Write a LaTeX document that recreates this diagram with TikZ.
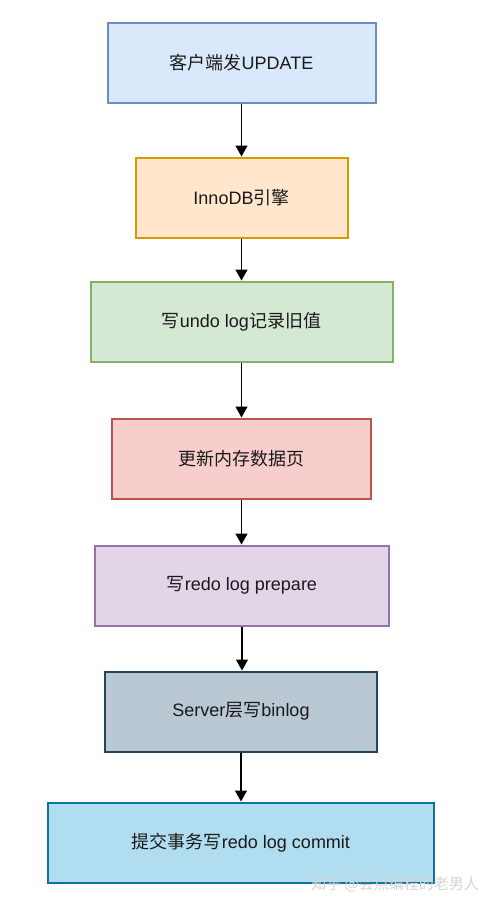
\documentclass[tikz,border=0pt]{standalone}
\usepackage{fontspec}
\setmainfont{Liberation Sans}
\newfontfamily\cjk{Noto Sans CJK SC}
\usetikzlibrary{arrows.meta}
\definecolor{f1}{HTML}{DAE8FC}\definecolor{d1}{HTML}{6C8EBF}
\definecolor{f2}{HTML}{FFE6CC}\definecolor{d2}{HTML}{D79B00}
\definecolor{f3}{HTML}{D5E8D4}\definecolor{d3}{HTML}{82B366}
\definecolor{f4}{HTML}{F8CECC}\definecolor{d4}{HTML}{B85450}
\definecolor{f5}{HTML}{E1D5E7}\definecolor{d5}{HTML}{9673A6}
\definecolor{f6}{HTML}{BAC8D3}\definecolor{d6}{HTML}{23445D}
\definecolor{f7}{HTML}{B1DDF0}\definecolor{d7}{HTML}{10739E}
\definecolor{wm}{HTML}{D4D4D4}
\definecolor{tx}{HTML}{1A1A1A}
\tikzset{
  stepbox/.style={draw, line width=2pt, minimum height=80pt, inner sep=0pt,
    font=\fontsize{18pt}{21pt}\selectfont, text=tx},
  flow/.style={-{Triangle[length=11pt,width=12pt]}, line width=1.3pt, black}
}
\begin{document}
\begin{tikzpicture}[x=1pt,y=-1pt]
\useasboundingbox[fill=white] (0,0) rectangle (490,906);
\node[stepbox, fill=f1, draw=d1, minimum width=268pt] (n1) at (241.5,62.5) {{\cjk 客户端发}UPDATE};
\node[stepbox, fill=f2, draw=d2, minimum width=212pt] (n2) at (241.5,197.5) {InnoDB{\cjk 引擎}};
\node[stepbox, fill=f3, draw=d3, minimum width=302pt] (n3) at (241.5,321.5) {{\cjk 写}undo log{\cjk 记录旧值}};
\node[stepbox, fill=f4, draw=d4, minimum width=259pt] (n4) at (241.5,458.5) {{\cjk 更新内存数据页}};
\node[stepbox, fill=f5, draw=d5, minimum width=294pt] (n5) at (242,585.5) {{\cjk 写}redo log prepare};
\node[stepbox, fill=f6, draw=d6, minimum width=272pt] (n6) at (241,711.5) {Server{\cjk 层写}binlog};
\node[stepbox, fill=f7, draw=d7, minimum width=386pt] (n7) at (241,842.5) {{\cjk 提交事务写}redo log commit};
\draw[flow] (n1.south) -- (n1.south |- n2.north);
\draw[flow] (n2.south) -- (n2.south |- n3.north);
\draw[flow] (n3.south) -- (n3.south |- n4.north);
\draw[flow] (n4.south) -- (n4.south |- n5.north);
\draw[flow] (n5.south) -- (n5.south |- n6.north);
\draw[flow] (n6.south) -- (n6.south |- n7.north);
\node[font=\cjk\fontsize{15pt}{18pt}\selectfont, text=wm, anchor=east, inner sep=0pt] (wmk) at (479,884) {知乎 @会点编程的老男人};
\end{tikzpicture}
\end{document}
